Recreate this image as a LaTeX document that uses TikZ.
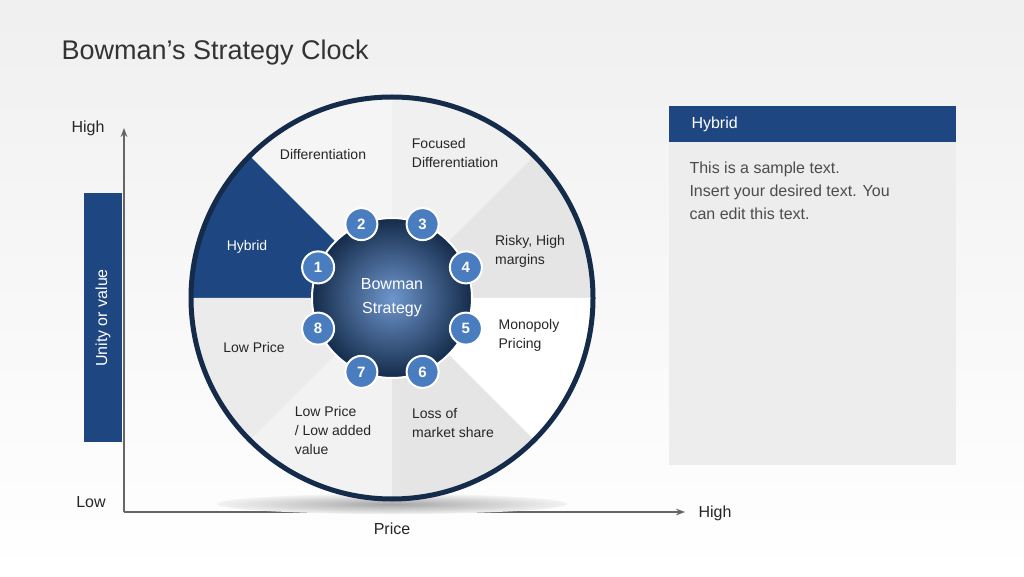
\documentclass[tikz,border=0pt]{standalone}
\usepackage{fontspec}
\setmainfont{Liberation Sans}
\usetikzlibrary{positioning,arrows.meta,calc}
\definecolor{navy}{HTML}{1E4680}
\definecolor{ringc}{HTML}{142B4A}
\definecolor{numc}{HTML}{4A7CC0}
\tikzset{
  lbl/.style={font=\fontsize{14}{19}\selectfont,text=black!85,align=left},
  num/.style={circle,draw=white,line width=2pt,fill=numc,minimum size=32pt,inner sep=0pt,text=white,font=\fontsize{15}{15}\selectfont\bfseries},
  axis/.style={draw=gray!80!black,line width=1.5pt,-{Stealth[length=9pt]}}
}
\begin{document}
\begin{tikzpicture}[x=1pt,y=1pt]
\shade[top color=gray!12,bottom color=white] (0,0) rectangle (1024,576);
\useasboundingbox (0,0) rectangle (1024,576);
\node[anchor=west,font=\fontsize{27}{30}\selectfont,text=black!80] (title) at (58,523) {Bowman’s Strategy Clock};
% axes
\coordinate (o) at (124,64);
\coordinate (ytop) at (124,448);
\coordinate (xend) at (685,64);
\draw[axis] (o) -- (ytop);
\draw[axis] (o) -- (xend);
\node[lbl,font=\fontsize{16}{16}\selectfont] (yhigh) at (88,448) {High};
\node[lbl,font=\fontsize{16}{16}\selectfont] (ylow) at (91,74) {Low};
\node[lbl,font=\fontsize{16}{16}\selectfont] (xhigh) at (715,63) {High};
\node[lbl,font=\fontsize{16}{16}\selectfont] (price) at (392,47) {Price};
\fill[navy] (84,134) rectangle (122,383);
\node[rotate=90,text=white,font=\fontsize{16}{16}\selectfont] (unity) at (103,258) {Unity or value};
% shadow
\shade[inner color=gray!70,outer color=gray!10] (392,72) ellipse (175 and 10);
% clock
\coordinate (c) at (392,278);
\foreach \a/\col in {135/navy,90/gray!8,45/gray!12,0/gray!20,-45/white,-90/gray!20,-135/gray!10,180/gray!16}
  \fill[\col] (c) -- ++(\a:200) arc (\a:\a+45:200) -- cycle;
\draw[ringc,line width=5pt] (c) circle (201);
\shade[inner color=numc!80,outer color=ringc] (c) circle (80);
\draw[white,line width=2pt] (c) circle (80);
\node[text=white,font=\fontsize{16}{24}\selectfont,align=center] (bowman) at (c) {Bowman\\Strategy};
\foreach \n/\a in {1/157.5,2/112.5,3/67.5,4/22.5,5/-22.5,6/-67.5,7/-112.5,8/-157.5}
  \node[num] (n\n) at ($(c)+(\a:80)$) {\n};
\node[lbl] (diff) at (323,422) {Differentiation};
\node[lbl] (focus) at (455,423) {Focused\\Differentiation};
\node[lbl,text=white] (hybrid) at (247,329) {Hybrid};
\node[lbl] (risky) at (530,325) {Risky, High\\margins};
\node[lbl] (mono) at (529,241) {Monopoly\\Pricing};
\node[lbl] (lowp) at (254,229) {Low Price};
\node[lbl] (lowadd) at (333,146) {Low Price\\/ Low added\\value};
\node[lbl] (loss) at (453,153) {Loss of\\market share};
% panel
\fill[navy] (669,434) rectangle (956,470);
\fill[gray!14] (669,111) rectangle (956,434);
\node[anchor=west,text=white,font=\fontsize{16}{16}\selectfont] (phead) at (688,452) {Hybrid};
\node[anchor=north west,align=left,text=black!70,font=\fontsize{16}{23}\selectfont] (ptext) at (686,418) {This is a sample text.\\Insert your desired text. You\\can edit this text.};
\end{tikzpicture}
\end{document}
